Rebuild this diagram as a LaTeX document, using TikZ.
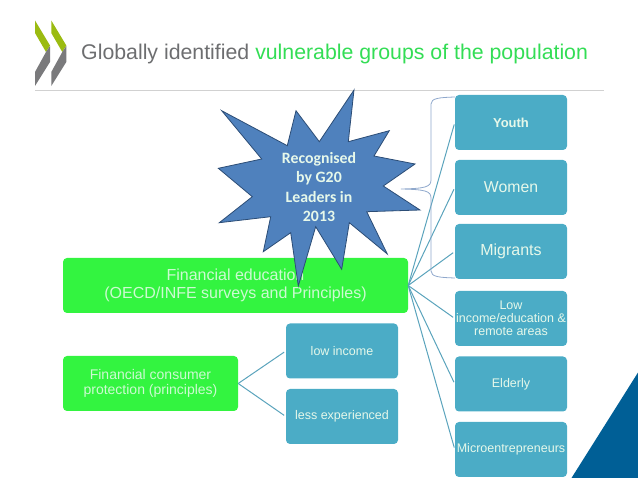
\documentclass[tikz,border=0pt]{standalone}
\usepackage{fontspec}
\setmainfont{Liberation Sans}
\newfontfamily\starfont{Carlito}
\definecolor{boxblue}{HTML}{4BACC6}
\definecolor{boxgreen}{HTML}{33F440}
\definecolor{titlegray}{HTML}{6D6E70}
\definecolor{titlegreen}{HTML}{33DD55}
\definecolor{starblue}{HTML}{4F81BD}
\definecolor{starline}{HTML}{2C4D76}
\definecolor{linkblue}{HTML}{5AA3BC}
\definecolor{bracecol}{HTML}{8FA8CC}
\definecolor{cornerblue}{HTML}{005F96}
\definecolor{logogreen}{HTML}{9BBB11}
\definecolor{logogray}{HTML}{7A7A7C}
\definecolor{softwhite}{HTML}{E6F8EA}
\definecolor{palegreen}{HTML}{CDFAD2}
\tikzset{
  tile/.style={rounded corners=4pt,inner sep=0pt,align=center,text=softwhite},
  bluetile/.style={tile,fill=boxblue,minimum width=112pt,minimum height=55pt,font=\fontsize{12.5}{13pt}\selectfont},
  greentile/.style={tile,fill=boxgreen,text=palegreen},
  link/.style={draw=linkblue,line width=1pt,shorten >=2pt},
}
\begin{document}
\begin{tikzpicture}[x=1pt,y=-1pt]
\useasboundingbox (0,0) rectangle (638,478);
% logo
\foreach \d in {0,16.3}{
  \fill[logogreen] (35+\d,20.5) -- (50+\d,45.5) -- (46+\d,52) -- (35+\d,33) -- cycle;
  \fill[logogray] (46+\d,52) -- (50+\d,46) -- (50+\d,62) -- (35+\d,86) -- (35+\d,72) -- cycle;
}
\draw[draw=black!18,line width=1pt] (35,90.5) -- (604,90.5);
\fill[cornerblue] (638,372.5) -- (638,478) -- (571.5,478) -- cycle;
\node[anchor=base west,inner sep=0pt,text=titlegray,font=\fontsize{21.3}{25}\selectfont] (title) at (81,60)
  {Globally identified \textcolor{titlegreen}{vulnerable groups of the population}};
% boxes
\node[bluetile] (youth) at (511,122.5) {\fontsize{13}{15}\selectfont\bfseries Youth};
\node[bluetile] (women) at (511,187.5) {\fontsize{15.8}{17}\selectfont Women};
\node[bluetile] (migrants) at (511,251.5) {\fontsize{16}{17}\selectfont\raisebox{-1.5pt}{Migrants}};
\node[bluetile] (lowinc) at (511,318.5) {Low\\income/education \&\\remote areas};
\node[bluetile] (elderly) at (511,384) {Elderly};
\node[bluetile] (micro) at (511,449.5) {Microentrepreneurs};
\node[bluetile] (low) at (342,351) {low income};
\node[bluetile] (less) at (342,416.5) {less experienced};
\node[greentile,minimum width=345pt,minimum height=55pt,font=\fontsize{16}{18pt}\selectfont] (fe) at (235.5,285.5) {Financial education\\(OECD/INFE surveys and Principles)};
\node[greentile,minimum width=175pt,minimum height=55pt,font=\fontsize{14}{15pt}\selectfont] (fcp) at (150.5,383.5) {Financial consumer\\protection (principles)};
% connectors
\foreach \t in {youth,women,migrants,lowinc,elderly,micro}{
  \draw[link] (fe.east) -- (\t.west);
}
\foreach \t in {low,less}{
  \draw[link] (fcp.east) -- (\t.west);
}
% star
\draw[fill=starblue,draw=starline,line width=0.8pt,line join=miter]
  (354,90) -- (319.3,141.7) -- (296,110.7) -- (287.3,145.7) -- (221.7,110.7) -- (261.7,159)
  -- (218.3,168.3) -- (252.3,196.7) -- (219.3,222.7) -- (270.7,216.7) -- (263.3,251.7)
  -- (290.7,232.7) -- (298.3,286) -- (315.7,226.7) -- (341.7,269.3) -- (349.3,222.7)
  -- (387.3,254) -- (366.7,211.7) -- (420,210) -- (383.3,186) -- (415,164) -- (374,156)
  -- (389.3,130.7) -- (348.3,141.7) -- cycle;
\node[inner sep=0pt,align=center,text=softwhite,font=\starfont\fontsize{15.8}{19.2pt}\selectfont\bfseries] (star) at (319,187)
  {Recognised\\by G20\\Leaders in\\2013};
% brace
\coordinate (bracetip) at (401,189);
\coordinate (bracetop) at (455,97);
\coordinate (bracebot) at (455,278);
\draw[draw=bracecol,line width=0.8pt]
  (bracetop) .. controls (440,97.5) and (431,98) .. (431,104) -- (431,180)
  .. controls (431,187) and (425,188.5) .. (bracetip)
  (bracetip) .. controls (425,189.5) and (431,191) .. (431,198) -- (431,271)
  .. controls (431,277) and (440,277.5) .. (bracebot);
\end{tikzpicture}
\end{document}
